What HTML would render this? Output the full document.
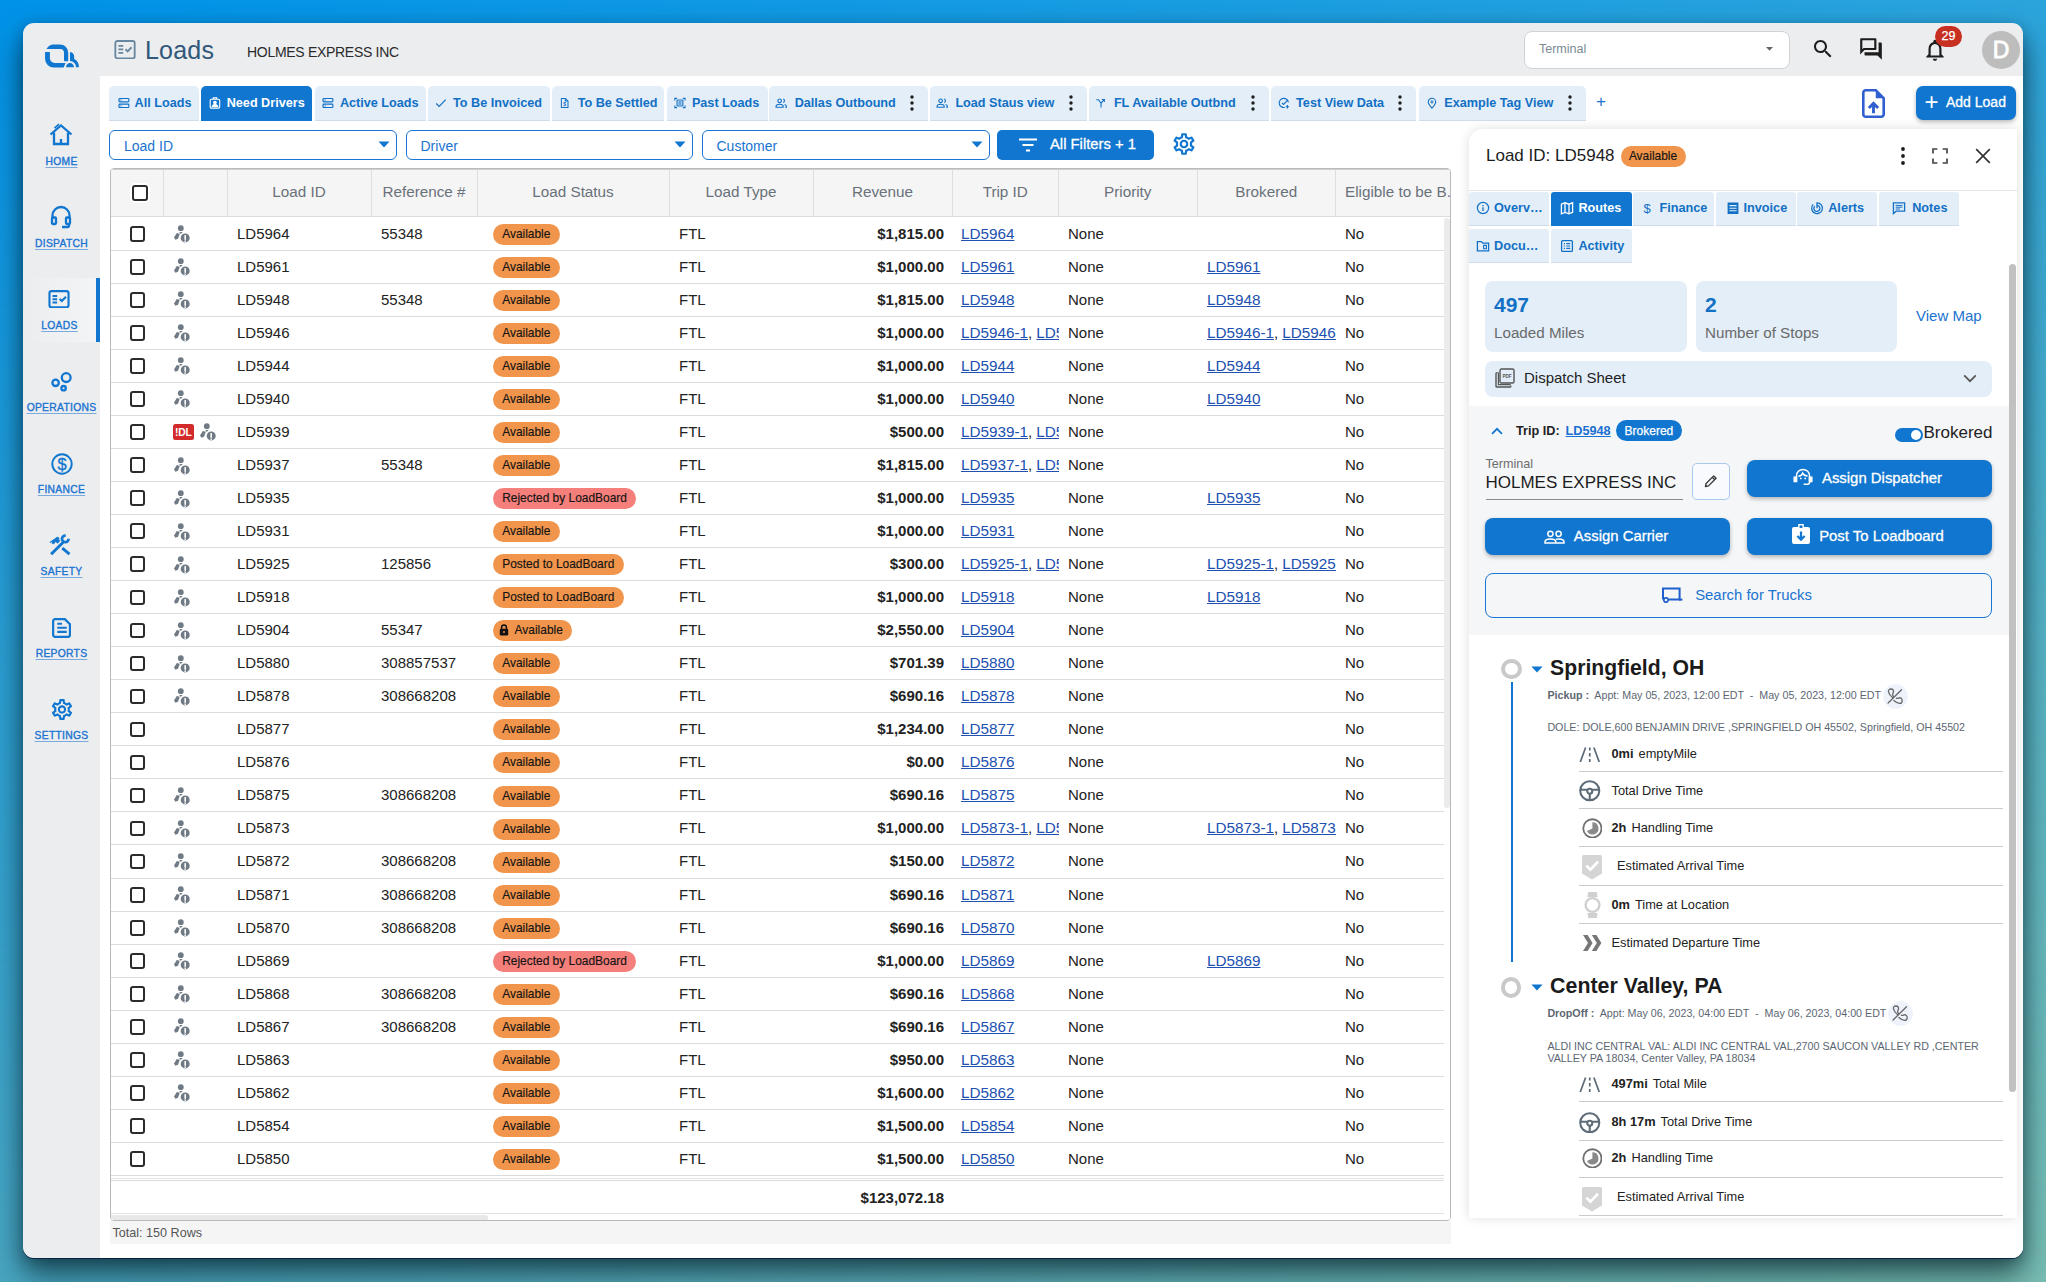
<!DOCTYPE html>
<html lang="en"><head><meta charset="utf-8"><title>Loads</title>
<style>
*{box-sizing:border-box;margin:0;padding:0}
html,body{width:2046px;height:1282px;overflow:hidden}
body{font-family:"Liberation Sans",Arial,sans-serif;color:#222;position:relative;background:linear-gradient(90deg,#0092e8 0%,#2ba4dc 100%)}
#bgb{position:absolute;left:0;top:0;width:2046px;height:1282px;background:linear-gradient(90deg,#48a6c2 0%,#78beb4 100%);-webkit-mask-image:linear-gradient(180deg,transparent 0%,rgba(0,0,0,.57) 50%,#000 100%);mask-image:linear-gradient(180deg,transparent 0%,rgba(0,0,0,.57) 50%,#000 100%)}
#win{position:absolute;left:23px;top:23px;width:2000px;height:1235px;border-radius:11px;background:#ecedef;overflow:hidden}
#sh{position:absolute;left:23px;top:23px;width:2000px;height:1235px;border-radius:11px;box-shadow:0 1px 0 rgba(5,30,60,.9),0 17px 30px rgba(0,25,30,.62),0 4px 14px rgba(0,30,50,.3)}
#pg{position:absolute;left:-23px;top:-23px;width:2046px;height:1282px}
.abs{position:absolute}
.abs>svg,.ico>svg{display:block}
a{color:#2050b0;text-decoration:underline}
.tr a{font-size:15.250px}
/* sidebar */
.nav{position:absolute;left:23px;width:77px;height:64px;text-align:center}
.nav.act{width:77px;background:linear-gradient(90deg,#ecedef,#f3f4f5);border-right:4px solid #1076cf}
.nav svg{position:absolute;left:50%;top:9px;transform:translateX(-50%)}
.nav span{position:absolute;left:0;right:0;font-size:10.3px;letter-spacing:.3px;color:#1a73d1;text-decoration:underline;text-decoration-color:rgba(26,115,209,.55);text-decoration-thickness:1px;text-underline-offset:2px;line-height:12px;-webkit-text-stroke:.35px #1a73d1}
/* header */
#title{position:absolute;left:145px;top:33.600px;font-size:25px;line-height:32px;color:#30587a;letter-spacing:.2px}
#comp{position:absolute;left:247px;top:43px;font-size:14px;line-height:18px;color:#2a2a2a;letter-spacing:-.3px}
#term{position:absolute;left:1524px;top:31px;width:266px;height:38px;border:1px solid #d0d3d6;border-radius:8px;background:#fff}
#term span{position:absolute;left:14px;top:9px;font-size:12.5px;color:#7b8a92;line-height:16px}
#main{position:absolute;left:100px;top:76px;width:1946px;height:1206px;background:#fff}
/* tabs */
.tab{position:absolute;top:86px;height:35px;background:#e3eef8;border-radius:5px 5px 0 0;border-bottom:1px solid #cfdceb;color:#1270c5;font-weight:700;font-size:12.650px;line-height:34px;white-space:nowrap;padding-left:25.400px}
.tab.on{background:#1076cf;color:#fff;border-bottom-color:#1076cf}
.tab .ti{display:block;position:absolute;top:10px;left:0;transform:scale(.85);transform-origin:0 50%}
.tab .kb{position:absolute;right:13px;top:8px}
/* filters */
.sel{position:absolute;top:130px;height:30px;border:1px solid #1a76d2;border-radius:6px;background:#fff;color:#1a73cf;font-size:14px;line-height:30px;padding-left:14px}
.sel svg{position:absolute;right:6px;top:10px}
#allf{position:absolute;left:997px;top:130px;width:157px;height:30px;border-radius:5px;background:#1076cf;color:#fff;font-size:14.800px;-webkit-text-stroke:.3px #fff;line-height:28.700px;padding-left:53px;white-space:nowrap}
#allf svg{position:absolute;left:21px;top:8px}
/* table */
#tbl{position:absolute;left:110px;top:168px;width:1341px;height:1053px;border:1px solid #b9b9b9;border-radius:4px;background:#fff;overflow:hidden}
#th{position:absolute;left:0;top:0;width:1400px;height:48px;background:#f5f5f5;border-bottom:1px solid #dcdcdc;border-top:1px solid #cfcfcf}
#th div{position:absolute;top:0;height:46px;border-right:1px solid #dedede;text-align:center;color:#69717a;font-size:15.250px;line-height:44px;white-space:nowrap;overflow:hidden}
.tr{position:relative;height:33.058px;border-bottom:1px solid #dcdcdc;width:1333px}
.c{position:absolute;top:0;height:32px;line-height:32.600px;font-size:15px;white-space:nowrap;overflow:hidden;color:#222}
.c0{left:0;width:53px}.c1{left:53px;width:63px}.c2{left:126px;width:135px}.c3{left:270px;width:97px}.c4{left:382px;width:180px}
.c5{left:568px;width:130px}.c6{left:703px;width:130px;text-align:right;font-weight:700}.c7{left:850px;width:98px}.c8{left:957px;width:130px}.c9{left:1096px;width:129px}.c10{left:1234px;width:100px}
.cb{position:absolute;left:18.500px;top:8.400px;width:15.600px;height:15.600px;border:2px solid #2b2b2b;border-radius:3px;background:#fff}
.pi{position:absolute;left:9.600px;top:7.600px}
.dl{position:absolute;left:8.900px;top:8px;width:21px;height:16px;background:#d32b2b;color:#fff;font-size:10.300px;font-weight:700;line-height:17.800px;text-align:center;border-radius:2.500px;letter-spacing:-.2px}
.dl + .pi{left:35.500px}
.bd{display:inline-block;height:21px;line-height:21px;border-radius:11px;background:#f0954b;color:#141414;font-size:11.950px;-webkit-text-stroke:.15px #141414;padding:0 9.200px;vertical-align:middle;position:relative;top:-.4px}
.bd.rj{background:#f57f7a}
.bd.lk{padding-left:5.800px;padding-right:9.500px}
#tot{position:absolute;left:0;top:1011px;width:1340px;height:34px;border-top:1px solid #dcdcdc;border-bottom:1px solid #e2e2e2}
#foot{position:absolute;left:110px;top:1221px;width:1341px;height:23px;background:#f5f5f5;font-size:12.600px;color:#555;line-height:24px;padding-left:2.500px}
/* panel */
#pan{position:absolute;left:1469px;top:129px;width:548px;height:1089px;background:#fff;border-radius:14px 0 0 0;box-shadow:0 0 12px rgba(0,0,0,.13);overflow:hidden}
#pin{position:absolute;left:-1469px;top:-129px;width:2046px;height:1282px}
.ptab{position:absolute;width:80.3px;height:34px;border-radius:3px 3px 0 0;background:#e3eef8;border-bottom:1px solid #cfdceb;color:#1270c5;font-weight:700;font-size:12.700px;line-height:33px;white-space:nowrap;padding-left:7px}
.ptab.on{background:#1076cf;color:#fff;border-bottom-color:#1076cf}
.ptab .ti{vertical-align:-3.200px;margin-right:4px}
.card{position:absolute;top:281px;height:71px;background:#e3eef8;border-radius:8px}
.card b{position:absolute;left:9px;top:11px;font-size:21px;line-height:26px;color:#1270c5}
.card span{position:absolute;left:9px;top:42px;font-size:15.200px;line-height:20px;color:#6a6a6a;white-space:nowrap}
.btn{position:absolute;height:37px;border-radius:8px;background:#1076cf;color:#fff;font-size:14.900px;-webkit-text-stroke:.3px #fff;line-height:36px;text-align:center;box-shadow:0 2px 4px rgba(0,0,0,.28);white-space:nowrap}
.btn svg{vertical-align:-3px;margin-right:9px}
.stopt{position:absolute;font-weight:700;font-size:21.350px;line-height:28px;color:#1b1b1b;margin-top:.7px;margin-left:.6px;white-space:nowrap}
.meta{position:absolute;font-size:10.700px;line-height:12.400px;color:#5c6672;white-space:nowrap}
.meta b{color:#5c6672}
.it{position:absolute;left:1611.5px;font-size:12.800px;line-height:16px;margin-top:.4px;color:#222;white-space:nowrap}
.it b{margin-right:5px}
.ln{position:absolute;left:1579px;width:424px;height:1px;background:#c6ccd0}
.ico{position:absolute}
.ring{position:absolute;width:20.600px;height:20.600px;border:4.500px solid #c9c9c9;border-radius:50%;background:#fff}
</style></head><body>
<div id="bgb"></div>
<div id="sh"></div>
<div id="win"><div id="pg">

<!-- SIDEBAR -->
<div class="abs" style="left:36px;top:36px"><svg width="60" height="40" viewBox="0 0 60 40" ><g fill="#1076cf"><path d="M10.4 12.900C12 10.400 14.500 8.400 17.200 8.400H24a8.200 8.200 0 0 1 8.200 8.200v7.800a.8 .8 0 0 1-.8 .8h-2.600a.8 .8 0 0 1-.8-.8v-7.600a3.800 3.800 0 0 0-3.800-3.800z"/><path d="M9.050 16.100h4.850v6.200a4.700 4.700 0 0 0 4.700 4.700h11l-2 4.500H17.800a8.750 8.750 0 0 1-8.750-8.750z"/><path d="M34 16.100c2.600 .4 4.200 2.200 4.200 4.600v2.400c3 1.400 4.800 4.400 4.800 8.100h-3c0-3.400-2.400-6-6-6.200z"/><path d="M30 31.200c.2-2.600 1.800-4.300 4-4.300s3.800 1.700 4 4.300z"/></g></svg></div>
<div class="nav" style="top:114px"><span style="top:42px">HOME</span><i></i></div>
<div class="nav" style="top:114px;left:22px"><svg width="24" height="23" viewBox="0 0 24 23" ><g fill="none" stroke="#1076cf" stroke-width="2.300"><path d="M1.5 11.5L12 2.5l10.5 9"/><path d="M5 9.5V21h14V9.5"/><path d="M12 21v-5"/><path d="M5.5 5.2L10 1.2" stroke-width="1.6"/></g></svg></div>
<div class="nav" style="top:196px"><span style="top:42px">DISPATCH</span></div>
<div class="nav" style="top:196px;left:22px"><svg width="22" height="24" viewBox="0 0 22 24" ><g fill="none" stroke="#1076cf" stroke-width="2.300"><path d="M2.5 14V10.5a8.5 8.5 0 0 1 17 0V14"/><rect x="2" y="12.5" width="4" height="6.5" rx="1"/><rect x="16" y="12.5" width="4" height="6.5" rx="1"/><path d="M19 19v1.5a1.5 1.5 0 0 1-1.5 1.5H12"/></g></svg></div>
<div class="nav act" style="top:278px"><span style="top:42px">LOADS</span></div>
<div class="nav" style="top:280.500px;width:73px;left:22px"><svg width="22" height="18.5" viewBox="0 0 23 20" ><g fill="none" stroke="#1076cf" stroke-width="2.300"><rect x="1.2" y="1.2" width="20.6" height="17.6" rx="2.2"/><path d="M4.5 6.5h5M4.5 10h5M4.5 13.5h5"/><path d="M12.2 9.6l2.4 2.4 4.4-4.6"/></g></svg></div>
<div class="nav" style="top:360px"><span style="top:42px">OPERATIONS</span></div>
<div class="nav" style="top:363px"><svg width="22" height="20" viewBox="0 0 22 20" ><g fill="none" stroke="#1076cf" stroke-width="2.300"><circle cx="15.2" cy="5.6" r="4.4"/><circle cx="4.6" cy="10.8" r="3.2"/><circle cx="12.6" cy="16.2" r="2.2"/></g></svg></div>
<div class="nav" style="top:442px"><span style="top:42px">FINANCE</span></div>
<div class="nav" style="top:443.500px"><svg width="22" height="22" viewBox="0 0 22 22" ><circle cx="11" cy="11" r="9.700" fill="none" stroke="#1076cf" stroke-width="1.900"/><text x="11" y="16.800" font-family="Liberation Sans, sans-serif" font-size="16.500" fill="#1076cf" stroke="#1076cf" stroke-width=".3" text-anchor="middle">$</text></svg></div>
<div class="nav" style="top:524px"><span style="top:42px">SAFETY</span></div>
<div class="nav" style="top:525px;left:21.500px"><svg width="23" height="22" viewBox="0 0 23 22" ><g fill="none" stroke="#1076cf"><path d="M2.600 20.200L15.200 7.800" stroke-width="2.900"/><path d="M13.800 14.200l7.200 6" stroke-width="2.900"/><path d="M20.100 4.800A3.300 3.300 0 1 1 17.200 1.600" stroke-width="2.700"/><path d="M1.400 8.400L8.600 3.200l2.200 .8-1 1.400 1.600 1.200-2.200 2.600-2-1.600-2.200 2.400-1.400-.8 .8-1.600z" fill="#1076cf" stroke-width=".8"/></g></svg></div>
<div class="nav" style="top:606px"><span style="top:42px">REPORTS</span></div>
<div class="nav" style="top:608.500px"><svg width="20" height="20" viewBox="0 0 21 21" ><g fill="none" stroke="#1076cf" stroke-width="2.300"><path d="M3.2 1.2h10.3l5.3 5.3v11.3a2 2 0 0 1-2 2H3.2a2 2 0 0 1-2-2V3.2a2 2 0 0 1 2-2z"/><path d="M5.5 6h5M5.5 10.3h10M5.5 14.6h10" stroke-width="2.2"/></g></svg></div>
<div class="nav" style="top:688px"><span style="top:42px">SETTINGS</span></div>
<div class="nav" style="top:688px"><svg width="25" height="25" viewBox="0 0 24 24" ><path fill="#1076cf" d="M19.43 12.98c.04-.32.07-.64.07-.98 0-.34-.03-.66-.07-.98l2.11-1.65c.19-.15.24-.42.12-.64l-2-3.46c-.09-.16-.26-.25-.44-.25-.06 0-.12.01-.17.03l-2.49 1c-.52-.4-1.08-.73-1.69-.98l-.38-2.65C14.46 2.18 14.25 2 14 2h-4c-.25 0-.46.18-.49.42l-.38 2.65c-.61.25-1.17.59-1.69.98l-2.49-1c-.06-.02-.12-.03-.18-.03-.17 0-.34.09-.43.25l-2 3.46c-.13.22-.07.49.12.64l2.11 1.65c-.04.32-.07.65-.07.98 0 .33.03.66.07.98l-2.11 1.65c-.19.15-.24.42-.12.64l2 3.46c.09.16.26.25.44.25.06 0 .12-.01.17-.03l2.49-1c.52.4 1.08.73 1.69.98l.38 2.65c.03.24.24.42.49.42h4c.25 0 .46-.18.49-.42l.38-2.65c.61-.25 1.17-.59 1.69-.98l2.49 1c.06.02.12.03.18.03.17 0 .34-.09.43-.25l2-3.46c.12-.22.07-.49-.12-.64l-2.11-1.65zm-1.98-1.71c.04.31.05.52.05.73 0 .21-.02.43-.05.73l-.14 1.13.89.7 1.08.84-.7 1.21-1.27-.51-1.04-.42-.9.68c-.43.32-.84.56-1.25.73l-1.06.43-.16 1.13-.2 1.35h-1.4l-.19-1.35-.16-1.13-1.06-.43c-.43-.18-.83-.41-1.23-.71l-.91-.7-1.06.43-1.27.51-.7-1.21 1.08-.84.89-.7-.14-1.13c-.03-.31-.05-.54-.05-.74s.02-.43.05-.73l.14-1.13-.89-.7-1.08-.84.7-1.21 1.27.51 1.04.42.9-.68c.43-.32.84-.56 1.25-.73l1.06-.43.16-1.13.2-1.35h1.39l.19 1.35.16 1.13 1.06.43c.43.18.83.41 1.23.71l.91.7 1.06-.43 1.27-.51.7 1.21-1.07.85-.89.7.14 1.13zM12 8c-2.21 0-4 1.79-4 4s1.79 4 4 4 4-1.79 4-4-1.79-4-4-4zm0 6c-1.1 0-2-.9-2-2s.9-2 2-2 2 .9 2 2-.9 2-2 2z"/></svg></div>

<!-- HEADER -->
<div class="abs" style="left:114.300px;top:39.800px"><svg width="22" height="19.5" viewBox="0 0 24 22" ><g fill="none" stroke="#6887a0" stroke-width="2.100"><rect x="1.100" y="1.100" width="21.800" height="19.600" rx="2.200"/><path d="M4.600 6.600h5.400M4.600 10.600h5.400M4.600 14.600h5.400"/><path d="M12.600 10.400l2.400 2.400 4.400-4.600"/></g></svg></div>
<div id="title">Loads</div>
<div id="comp">HOLMES EXPRESS INC</div>
<div id="term"><span>Terminal</span><div class="abs" style="right:16.500px;top:14.500px;line-height:0"><svg width="7" height="4" viewBox="0 0 7 4" ><path d="M0 0h7L3.500 3.700z" fill="#666"/></svg></div></div>
<div class="abs" style="left:1811px;top:37px"><svg width="24" height="24" viewBox="0 0 24 24" ><path fill="#1d1d1d" d="M15.5 14h-.79l-.28-.27C15.41 12.59 16 11.11 16 9.5 16 5.91 13.09 3 9.5 3S3 5.91 3 9.5 5.91 16 9.5 16c1.61 0 3.09-.59 4.23-1.57l.27.28v.79l5 4.99L20.49 19l-4.99-5zm-6 0C7.01 14 5 11.99 5 9.5S7.01 5 9.5 5 14 7.01 14 9.5 11.99 14 9.5 14z"/></svg></div>
<div class="abs" style="left:1858px;top:36px"><svg width="26" height="26" viewBox="0 0 24 24" ><path fill="#1d1d1d" d="M15 4v7H5.17L4 12.17V4h11m1-2H3c-.55 0-1 .45-1 1v14l4-4h10c.55 0 1-.45 1-1V3c0-.55-.45-1-1-1zm5 4h-2v9H6v2c0 .55.45 1 1 1h11l4 4V7c0-.55-.45-1-1-1z"/></svg></div>
<div class="abs" style="left:1922px;top:37px"><svg width="26" height="26" viewBox="0 0 24 24" ><path fill="#1d1d1d" d="M12 22c1.1 0 2-.9 2-2h-4c0 1.1.9 2 2 2zm6-6v-5c0-3.07-1.63-5.64-4.5-6.32V4c0-.83-.67-1.5-1.5-1.5s-1.5.67-1.5 1.5v.68C7.64 5.36 6 7.92 6 11v5l-2 2v1h16v-1l-2-2zm-2 1H8v-6c0-2.48 1.51-4.5 4-4.5s4 2.02 4 4.5v6z"/></svg></div>
<div class="abs" style="left:1935px;top:26px;width:27px;height:21px;border-radius:11px;background:#c72f20;-webkit-text-stroke:.25px #fff;color:#fff;font-size:12.5px;line-height:21px;text-align:center">29</div>
<div class="abs" style="left:1982px;top:31px;width:38px;height:38px;border-radius:50%;background:#bdbdbd;color:#fff;font-size:23px;line-height:38px;text-align:center;-webkit-text-stroke:.8px #fff">D</div>

<div id="main"></div>

<!-- TABS -->
<div class="tab" style="left:109.2px;width:90.0px"><span style="position:absolute;left:8.6px;top:0"><svg class="ti" width="14" height="14" viewBox="0 0 14 14"><g fill="none" stroke="currentColor" stroke-width="1.400"><rect x="1.200" y="1.700" width="11.600" height="4" rx="1"/><rect x="1.200" y="8.300" width="11.600" height="4" rx="1"/><path d="M3 3.700h1.200M3 10.300h1.200"/></g></svg></span>All Loads</div>
<div class="tab on" style="left:201.3px;width:111.2px"><span style="position:absolute;left:7.5px;top:0"><svg class="ti" width="14" height="14" viewBox="0 0 14 14"><g fill="none" stroke="currentColor" stroke-width="1.300"><rect x="1.400" y="2.600" width="11.200" height="10.400" rx="1.400"/><path d="M5 2.600V1h4v1.600"/><circle cx="7" cy="6.400" r="1.500" fill="currentColor"/><path d="M3.800 11c.4-1.600 1.600-2.200 3.200-2.200s2.800 .6 3.200 2.200z" fill="currentColor"/></g></svg></span>Need Drivers</div>
<div class="tab" style="left:314.5px;width:111.2px"><span style="position:absolute;left:7.2px;top:0"><svg class="ti" width="14" height="14" viewBox="0 0 14 14"><g fill="none" stroke="currentColor" stroke-width="1.400"><rect x="1.200" y="1.700" width="11.600" height="4" rx="1"/><rect x="1.200" y="8.300" width="11.600" height="4" rx="1"/><path d="M3 3.700h1.200M3 10.300h1.200"/></g></svg></span>Active Loads</div>
<div class="tab" style="left:427.7px;width:122.5px"><span style="position:absolute;left:7.6px;top:0"><svg class="ti" width="14" height="14" viewBox="0 0 14 14"><path d="M1.500 7.600l3.400 3.400L12.600 3" fill="none" stroke="currentColor" stroke-width="1.400"/></svg></span>To Be Invoiced</div>
<div class="tab" style="left:552.3px;width:112.2px"><span style="position:absolute;left:7.2px;top:0"><svg class="ti" width="13" height="14" viewBox="0 0 14 14"><g fill="none" stroke="currentColor" stroke-width="1.300"><path d="M3 1.200h5.200l3.200 3.200v8.400H3z"/><path d="M8 1.400v3.200h3.200"/></g><text x="7.200" y="11.200" font-size="6.500" font-weight="700" fill="currentColor" text-anchor="middle" font-family="Liberation Sans, sans-serif">$</text></svg></span>To Be Settled</div>
<div class="tab" style="left:666.5px;width:101.0px"><span style="position:absolute;left:7.2px;top:0"><svg class="ti" width="14" height="14" viewBox="0 0 14 14"><g fill="none" stroke="currentColor" stroke-width="1.300"><path d="M1 4V1.600h2.600M10.400 1.600H13V4M13 10v2.400h-2.600M3.600 12.400H1V10"/><rect x="3.600" y="3.400" width="6.800" height="7.200" rx=".6"/><path d="M5.200 5.600h3.600M5.200 7h3.600M5.200 8.400h3.600" stroke-width="1"/></g></svg></span>Past Loads</div>
<div class="tab" style="left:769.3px;width:158.9px"><span style="position:absolute;left:6.2px;top:0"><svg class="ti" width="15" height="14" viewBox="0 0 14.500 14"><g fill="none" stroke="currentColor" stroke-width="1.300"><circle cx="5.200" cy="4.400" r="2.100"/><path d="M1 12v-1c0-1.800 2.200-2.600 4.200-2.600s4.200 .8 4.200 2.600v1z"/><path d="M9.400 2.400a2.100 2.100 0 0 1 0 4M11 8.800c1.200 .4 2.200 1.100 2.200 2.200v1h-1.600"/></g></svg></span>Dallas Outbound<svg class="kb" width="6" height="18" viewBox="0 0 6 18"><circle cx="3" cy="3" r="1.700" fill="#1d1d1d"/><circle cx="3" cy="9" r="1.700" fill="#1d1d1d"/><circle cx="3" cy="15" r="1.700" fill="#1d1d1d"/></svg></div>
<div class="tab" style="left:930.0px;width:156.8px"><span style="position:absolute;left:6.0px;top:0"><svg class="ti" width="15" height="14" viewBox="0 0 14.500 14"><g fill="none" stroke="currentColor" stroke-width="1.300"><circle cx="5.200" cy="4.400" r="2.100"/><path d="M1 12v-1c0-1.800 2.200-2.600 4.200-2.600s4.200 .8 4.200 2.600v1z"/><path d="M9.400 2.400a2.100 2.100 0 0 1 0 4M11 8.800c1.200 .4 2.200 1.100 2.200 2.200v1h-1.600"/></g></svg></span>Load Staus view<svg class="kb" width="6" height="18" viewBox="0 0 6 18"><circle cx="3" cy="3" r="1.700" fill="#1d1d1d"/><circle cx="3" cy="9" r="1.700" fill="#1d1d1d"/><circle cx="3" cy="15" r="1.700" fill="#1d1d1d"/></svg></div>
<div class="tab" style="left:1088.5px;width:180.5px"><span style="position:absolute;left:6.8px;top:0"><svg class="ti" width="14" height="14" viewBox="0 0 14 14"><g fill="none" stroke="currentColor" stroke-width="1.300"><path d="M1.500 3.200h2.600l3 4v5"/><path d="M7.100 7.200l3.400-4M8 2.800h3v3"/></g></svg></span>FL Available Outbnd<svg class="kb" width="6" height="18" viewBox="0 0 6 18"><circle cx="3" cy="3" r="1.700" fill="#1d1d1d"/><circle cx="3" cy="9" r="1.700" fill="#1d1d1d"/><circle cx="3" cy="15" r="1.700" fill="#1d1d1d"/></svg></div>
<div class="tab" style="left:1270.7px;width:145.3px"><span style="position:absolute;left:7.5px;top:0"><svg class="ti" width="14" height="14" viewBox="0 0 14 14"><g fill="none" stroke="currentColor" stroke-width="1.300"><path d="M12.200 6.200A5.400 5.400 0 1 0 8 12.200"/><path d="M4.600 6.800l1.900 1.900 5.200-5.400"/><path d="M11 9.400v4M9 11.400h4"/></g></svg></span>Test View Data<svg class="kb" width="6" height="18" viewBox="0 0 6 18"><circle cx="3" cy="3" r="1.700" fill="#1d1d1d"/><circle cx="3" cy="9" r="1.700" fill="#1d1d1d"/><circle cx="3" cy="15" r="1.700" fill="#1d1d1d"/></svg></div>
<div class="tab" style="left:1418.9px;width:167.1px"><span style="position:absolute;left:7.4px;top:0"><svg class="ti" width="14" height="14" viewBox="0 0 14 14"><g fill="none" stroke="currentColor" stroke-width="1.300"><path d="M7 13c-2.600-2.800-4.400-4.800-4.400-7.200a4.400 4.400 0 0 1 8.800 0C11.400 8.200 9.600 10.200 7 13z"/><path d="M7 3.800v4M5 5.800h4" stroke-width="1.100"/></g></svg></span>Example Tag View<svg class="kb" width="6" height="18" viewBox="0 0 6 18"><circle cx="3" cy="3" r="1.700" fill="#1d1d1d"/><circle cx="3" cy="9" r="1.700" fill="#1d1d1d"/><circle cx="3" cy="15" r="1.700" fill="#1d1d1d"/></svg></div>
<div class="abs" style="left:1594px;top:92px;color:#1a73cf;font-size:17px;line-height:20px;width:14px;text-align:center">+</div>
<div class="abs" style="left:1862.300px;top:88.800px"><svg width="23" height="29" viewBox="0 0 23 29" ><path d="M3.800 1.300h10l7.900 7.900v16a2.500 2.500 0 0 1-2.500 2.500H3.800A2.500 2.500 0 0 1 1.300 25.200V3.800A2.500 2.500 0 0 1 3.800 1.300z" fill="#fff" stroke="#2f5fd0" stroke-width="2.600"/><path d="M13.800 1.300l7.900 7.900h-7.900z" fill="#2f5fd0"/><path d="M11.500 24.200v-8.400M6.900 19l4.600-4.600 4.600 4.600" fill="none" stroke="#2f5fd0" stroke-width="2.900"/></svg></div>
<div class="btn" style="left:1916px;top:86px;width:100px;height:34px;line-height:33px;font-size:14px;border-radius:7px;text-align:left"><span style="position:absolute;left:8.500px;top:-1.500px;font-size:24px;font-weight:400;-webkit-text-stroke:0">+</span><span style="position:absolute;left:30px;top:0">Add Load</span></div>

<!-- FILTERS -->
<div class="sel" style="left:109px;width:288px">Load ID<svg width="12" height="7" viewBox="0 0 12 7" ><path d="M0.5 0.5h11L6 6.5z" fill="#1076cf"/></svg></div>
<div class="sel" style="left:405.500px;width:287.500px">Driver<svg width="12" height="7" viewBox="0 0 12 7" ><path d="M0.5 0.5h11L6 6.5z" fill="#1076cf"/></svg></div>
<div class="sel" style="left:701.500px;width:288px">Customer<svg width="12" height="7" viewBox="0 0 12 7" ><path d="M0.5 0.5h11L6 6.5z" fill="#1076cf"/></svg></div>
<div id="allf"><svg width="20" height="14" viewBox="0 0 20 14" ><path d="M1 1.500h18M4.500 7h11M8 12.500h4" stroke="#fff" stroke-width="2" fill="none"/></svg>All Filters + 1</div>
<div class="abs" style="left:1171px;top:131px"><svg width="26" height="26" viewBox="0 0 24 24" ><path fill="#1076cf" d="M19.43 12.98c.04-.32.07-.64.07-.98 0-.34-.03-.66-.07-.98l2.11-1.65c.19-.15.24-.42.12-.64l-2-3.46c-.09-.16-.26-.25-.44-.25-.06 0-.12.01-.17.03l-2.49 1c-.52-.4-1.08-.73-1.69-.98l-.38-2.65C14.46 2.18 14.25 2 14 2h-4c-.25 0-.46.18-.49.42l-.38 2.65c-.61.25-1.17.59-1.69.98l-2.49-1c-.06-.02-.12-.03-.18-.03-.17 0-.34.09-.43.25l-2 3.46c-.13.22-.07.49.12.64l2.11 1.65c-.04.32-.07.65-.07.98 0 .33.03.66.07.98l-2.11 1.65c-.19.15-.24.42-.12.64l2 3.46c.09.16.26.25.44.25.06 0 .12-.01.17-.03l2.49-1c.52.4 1.08.73 1.69.98l.38 2.65c.03.24.24.42.49.42h4c.25 0 .46-.18.49-.42l.38-2.65c.61-.25 1.17-.59 1.69-.98l2.49 1c.06.02.12.03.18.03.17 0 .34-.09.43-.25l2-3.46c.12-.22.07-.49-.12-.64l-2.11-1.65zm-1.98-1.71c.04.31.05.52.05.73 0 .21-.02.43-.05.73l-.14 1.13.89.7 1.08.84-.7 1.21-1.27-.51-1.04-.42-.9.68c-.43.32-.84.56-1.25.73l-1.06.43-.16 1.13-.2 1.35h-1.4l-.19-1.35-.16-1.13-1.06-.43c-.43-.18-.83-.41-1.23-.71l-.91-.7-1.06.43-1.27.51-.7-1.21 1.08-.84.89-.7-.14-1.13c-.03-.31-.05-.54-.05-.74s.02-.43.05-.73l.14-1.13-.89-.7-1.08-.84.7-1.21 1.27.51 1.04.42.9-.68c.43-.32.84-.56 1.25-.73l1.06-.43.16-1.13.2-1.35h1.39l.19 1.35.16 1.13 1.06.43c.43.18.83.41 1.23.71l.91.7 1.06-.43 1.27-.51.7 1.21-1.07.85-.89.7.14 1.13zM12 8c-2.21 0-4 1.79-4 4s1.79 4 4 4 4-1.79 4-4-1.79-4-4-4zm0 6c-1.1 0-2-.9-2-2s.9-2 2-2 2 .9 2 2-.9 2-2 2z"/></svg></div>

<!-- TABLE -->
<div id="tbl">
 <div id="th">
  <div style="left:0;width:53px"><span class="cb" style="left:21px;top:15.400px;width:16px;height:16px;box-shadow:0 0 0 2px #fff"></span></div>
  <div style="left:53px;width:63.500px"></div>
  <div style="left:116.500px;width:144px">Load ID</div>
  <div style="left:260.500px;width:106px">Reference #</div>
  <div style="left:366.500px;width:192px">Load Status</div>
  <div style="left:558.500px;width:144px">Load Type</div>
  <div style="left:702.500px;width:139px">Revenue</div>
  <div style="left:841.500px;width:106.500px">Trip ID</div>
  <div style="left:948px;width:138.500px">Priority</div>
  <div style="left:1086.500px;width:138.500px">Brokered</div>
  <div style="left:1225px;width:140px;text-align:left;padding-left:9px;border-right:0">Eligible to be B..</div>
 </div>
 <div style="position:absolute;left:0;top:48.600px;width:1333px">
<div class="tr"><div class="c c0"><span class="cb"></span></div><div class="c c1"><svg class="pi" width="16" height="18" viewBox="0 0 16 18"><g fill="#6f7a85"><circle cx="6.800" cy="3.200" r="2.900"/><path d="M5.200 7.100h3.500L6.700 8.900z"/><path d="M2.800 8.100l3 .6-1.800 5.100-2.600 .9L0 12.600z"/><circle cx="11.200" cy="12.900" r="4.500"/></g><rect x="10.400" y="10.100" width="1.600" height="4.700" fill="#fff"/><rect x="10.400" y="15.500" width="1.600" height="1.400" fill="#fff"/></svg></div><div class="c c2">LD5964</div><div class="c c3">55348</div><div class="c c4"><span class="bd">Available</span></div><div class="c c5">FTL</div><div class="c c6">$1,815.00</div><div class="c c7"><a>LD5964</a></div><div class="c c8">None</div><div class="c c9"></div><div class="c c10">No</div></div>
<div class="tr"><div class="c c0"><span class="cb"></span></div><div class="c c1"><svg class="pi" width="16" height="18" viewBox="0 0 16 18"><g fill="#6f7a85"><circle cx="6.800" cy="3.200" r="2.900"/><path d="M5.200 7.100h3.500L6.700 8.900z"/><path d="M2.800 8.100l3 .6-1.800 5.100-2.600 .9L0 12.600z"/><circle cx="11.200" cy="12.900" r="4.500"/></g><rect x="10.400" y="10.100" width="1.600" height="4.700" fill="#fff"/><rect x="10.400" y="15.500" width="1.600" height="1.400" fill="#fff"/></svg></div><div class="c c2">LD5961</div><div class="c c3"></div><div class="c c4"><span class="bd">Available</span></div><div class="c c5">FTL</div><div class="c c6">$1,000.00</div><div class="c c7"><a>LD5961</a></div><div class="c c8">None</div><div class="c c9"><a>LD5961</a></div><div class="c c10">No</div></div>
<div class="tr"><div class="c c0"><span class="cb"></span></div><div class="c c1"><svg class="pi" width="16" height="18" viewBox="0 0 16 18"><g fill="#6f7a85"><circle cx="6.800" cy="3.200" r="2.900"/><path d="M5.200 7.100h3.500L6.700 8.900z"/><path d="M2.800 8.100l3 .6-1.800 5.100-2.600 .9L0 12.600z"/><circle cx="11.200" cy="12.900" r="4.500"/></g><rect x="10.400" y="10.100" width="1.600" height="4.700" fill="#fff"/><rect x="10.400" y="15.500" width="1.600" height="1.400" fill="#fff"/></svg></div><div class="c c2">LD5948</div><div class="c c3">55348</div><div class="c c4"><span class="bd">Available</span></div><div class="c c5">FTL</div><div class="c c6">$1,815.00</div><div class="c c7"><a>LD5948</a></div><div class="c c8">None</div><div class="c c9"><a>LD5948</a></div><div class="c c10">No</div></div>
<div class="tr"><div class="c c0"><span class="cb"></span></div><div class="c c1"><svg class="pi" width="16" height="18" viewBox="0 0 16 18"><g fill="#6f7a85"><circle cx="6.800" cy="3.200" r="2.900"/><path d="M5.200 7.100h3.500L6.700 8.900z"/><path d="M2.800 8.100l3 .6-1.800 5.100-2.600 .9L0 12.600z"/><circle cx="11.200" cy="12.900" r="4.500"/></g><rect x="10.400" y="10.100" width="1.600" height="4.700" fill="#fff"/><rect x="10.400" y="15.500" width="1.600" height="1.400" fill="#fff"/></svg></div><div class="c c2">LD5946</div><div class="c c3"></div><div class="c c4"><span class="bd">Available</span></div><div class="c c5">FTL</div><div class="c c6">$1,000.00</div><div class="c c7"><a>LD5946-1</a>, <a>LD5946-2</a></div><div class="c c8">None</div><div class="c c9"><a>LD5946-1</a>, <a>LD5946-2</a></div><div class="c c10">No</div></div>
<div class="tr"><div class="c c0"><span class="cb"></span></div><div class="c c1"><svg class="pi" width="16" height="18" viewBox="0 0 16 18"><g fill="#6f7a85"><circle cx="6.800" cy="3.200" r="2.900"/><path d="M5.200 7.100h3.500L6.700 8.900z"/><path d="M2.800 8.100l3 .6-1.800 5.100-2.600 .9L0 12.600z"/><circle cx="11.200" cy="12.900" r="4.500"/></g><rect x="10.400" y="10.100" width="1.600" height="4.700" fill="#fff"/><rect x="10.400" y="15.500" width="1.600" height="1.400" fill="#fff"/></svg></div><div class="c c2">LD5944</div><div class="c c3"></div><div class="c c4"><span class="bd">Available</span></div><div class="c c5">FTL</div><div class="c c6">$1,000.00</div><div class="c c7"><a>LD5944</a></div><div class="c c8">None</div><div class="c c9"><a>LD5944</a></div><div class="c c10">No</div></div>
<div class="tr"><div class="c c0"><span class="cb"></span></div><div class="c c1"><svg class="pi" width="16" height="18" viewBox="0 0 16 18"><g fill="#6f7a85"><circle cx="6.800" cy="3.200" r="2.900"/><path d="M5.200 7.100h3.500L6.700 8.900z"/><path d="M2.800 8.100l3 .6-1.800 5.100-2.600 .9L0 12.600z"/><circle cx="11.200" cy="12.900" r="4.500"/></g><rect x="10.400" y="10.100" width="1.600" height="4.700" fill="#fff"/><rect x="10.400" y="15.500" width="1.600" height="1.400" fill="#fff"/></svg></div><div class="c c2">LD5940</div><div class="c c3"></div><div class="c c4"><span class="bd">Available</span></div><div class="c c5">FTL</div><div class="c c6">$1,000.00</div><div class="c c7"><a>LD5940</a></div><div class="c c8">None</div><div class="c c9"><a>LD5940</a></div><div class="c c10">No</div></div>
<div class="tr"><div class="c c0"><span class="cb"></span></div><div class="c c1"><span class="dl">!DL</span><svg class="pi" width="16" height="18" viewBox="0 0 16 18"><g fill="#6f7a85"><circle cx="6.800" cy="3.200" r="2.900"/><path d="M5.200 7.100h3.500L6.700 8.900z"/><path d="M2.800 8.100l3 .6-1.800 5.100-2.600 .9L0 12.600z"/><circle cx="11.200" cy="12.900" r="4.500"/></g><rect x="10.400" y="10.100" width="1.600" height="4.700" fill="#fff"/><rect x="10.400" y="15.500" width="1.600" height="1.400" fill="#fff"/></svg></div><div class="c c2">LD5939</div><div class="c c3"></div><div class="c c4"><span class="bd">Available</span></div><div class="c c5">FTL</div><div class="c c6">$500.00</div><div class="c c7"><a>LD5939-1</a>, <a>LD5939-2</a></div><div class="c c8">None</div><div class="c c9"></div><div class="c c10">No</div></div>
<div class="tr"><div class="c c0"><span class="cb"></span></div><div class="c c1"><svg class="pi" width="16" height="18" viewBox="0 0 16 18"><g fill="#6f7a85"><circle cx="6.800" cy="3.200" r="2.900"/><path d="M5.200 7.100h3.500L6.700 8.900z"/><path d="M2.800 8.100l3 .6-1.800 5.100-2.600 .9L0 12.600z"/><circle cx="11.200" cy="12.900" r="4.500"/></g><rect x="10.400" y="10.100" width="1.600" height="4.700" fill="#fff"/><rect x="10.400" y="15.500" width="1.600" height="1.400" fill="#fff"/></svg></div><div class="c c2">LD5937</div><div class="c c3">55348</div><div class="c c4"><span class="bd">Available</span></div><div class="c c5">FTL</div><div class="c c6">$1,815.00</div><div class="c c7"><a>LD5937-1</a>, <a>LD5937-2</a></div><div class="c c8">None</div><div class="c c9"></div><div class="c c10">No</div></div>
<div class="tr"><div class="c c0"><span class="cb"></span></div><div class="c c1"><svg class="pi" width="16" height="18" viewBox="0 0 16 18"><g fill="#6f7a85"><circle cx="6.800" cy="3.200" r="2.900"/><path d="M5.200 7.100h3.500L6.700 8.900z"/><path d="M2.800 8.100l3 .6-1.800 5.100-2.600 .9L0 12.600z"/><circle cx="11.200" cy="12.900" r="4.500"/></g><rect x="10.400" y="10.100" width="1.600" height="4.700" fill="#fff"/><rect x="10.400" y="15.500" width="1.600" height="1.400" fill="#fff"/></svg></div><div class="c c2">LD5935</div><div class="c c3"></div><div class="c c4"><span class="bd rj">Rejected by LoadBoard</span></div><div class="c c5">FTL</div><div class="c c6">$1,000.00</div><div class="c c7"><a>LD5935</a></div><div class="c c8">None</div><div class="c c9"><a>LD5935</a></div><div class="c c10">No</div></div>
<div class="tr"><div class="c c0"><span class="cb"></span></div><div class="c c1"><svg class="pi" width="16" height="18" viewBox="0 0 16 18"><g fill="#6f7a85"><circle cx="6.800" cy="3.200" r="2.900"/><path d="M5.200 7.100h3.500L6.700 8.900z"/><path d="M2.800 8.100l3 .6-1.800 5.100-2.600 .9L0 12.600z"/><circle cx="11.200" cy="12.900" r="4.500"/></g><rect x="10.400" y="10.100" width="1.600" height="4.700" fill="#fff"/><rect x="10.400" y="15.500" width="1.600" height="1.400" fill="#fff"/></svg></div><div class="c c2">LD5931</div><div class="c c3"></div><div class="c c4"><span class="bd">Available</span></div><div class="c c5">FTL</div><div class="c c6">$1,000.00</div><div class="c c7"><a>LD5931</a></div><div class="c c8">None</div><div class="c c9"></div><div class="c c10">No</div></div>
<div class="tr"><div class="c c0"><span class="cb"></span></div><div class="c c1"><svg class="pi" width="16" height="18" viewBox="0 0 16 18"><g fill="#6f7a85"><circle cx="6.800" cy="3.200" r="2.900"/><path d="M5.200 7.100h3.500L6.700 8.900z"/><path d="M2.800 8.100l3 .6-1.800 5.100-2.600 .9L0 12.600z"/><circle cx="11.200" cy="12.900" r="4.500"/></g><rect x="10.400" y="10.100" width="1.600" height="4.700" fill="#fff"/><rect x="10.400" y="15.500" width="1.600" height="1.400" fill="#fff"/></svg></div><div class="c c2">LD5925</div><div class="c c3">125856</div><div class="c c4"><span class="bd">Posted to LoadBoard</span></div><div class="c c5">FTL</div><div class="c c6">$300.00</div><div class="c c7"><a>LD5925-1</a>, <a>LD5925-2</a></div><div class="c c8">None</div><div class="c c9"><a>LD5925-1</a>, <a>LD5925-2</a></div><div class="c c10">No</div></div>
<div class="tr"><div class="c c0"><span class="cb"></span></div><div class="c c1"><svg class="pi" width="16" height="18" viewBox="0 0 16 18"><g fill="#6f7a85"><circle cx="6.800" cy="3.200" r="2.900"/><path d="M5.200 7.100h3.500L6.700 8.900z"/><path d="M2.800 8.100l3 .6-1.800 5.100-2.600 .9L0 12.600z"/><circle cx="11.200" cy="12.900" r="4.500"/></g><rect x="10.400" y="10.100" width="1.600" height="4.700" fill="#fff"/><rect x="10.400" y="15.500" width="1.600" height="1.400" fill="#fff"/></svg></div><div class="c c2">LD5918</div><div class="c c3"></div><div class="c c4"><span class="bd">Posted to LoadBoard</span></div><div class="c c5">FTL</div><div class="c c6">$1,000.00</div><div class="c c7"><a>LD5918</a></div><div class="c c8">None</div><div class="c c9"><a>LD5918</a></div><div class="c c10">No</div></div>
<div class="tr"><div class="c c0"><span class="cb"></span></div><div class="c c1"><svg class="pi" width="16" height="18" viewBox="0 0 16 18"><g fill="#6f7a85"><circle cx="6.800" cy="3.200" r="2.900"/><path d="M5.200 7.100h3.500L6.700 8.900z"/><path d="M2.800 8.100l3 .6-1.800 5.100-2.600 .9L0 12.600z"/><circle cx="11.200" cy="12.900" r="4.500"/></g><rect x="10.400" y="10.100" width="1.600" height="4.700" fill="#fff"/><rect x="10.400" y="15.500" width="1.600" height="1.400" fill="#fff"/></svg></div><div class="c c2">LD5904</div><div class="c c3">55347</div><div class="c c4"><span class="bd lk"><svg width="10" height="12" viewBox="0 0 10 12" style="margin-right:5.800px;vertical-align:-1.800px"><path d="M2.6 5V3.4a2.4 2.4 0 0 1 4.8 0V5" fill="none" stroke="#111" stroke-width="1.5"/><rect x="0.8" y="4.8" width="8.4" height="6.6" rx="1.2" fill="#111"/><circle cx="5" cy="8.1" r="1" fill="#f0954b"/></svg>Available</span></div><div class="c c5">FTL</div><div class="c c6">$2,550.00</div><div class="c c7"><a>LD5904</a></div><div class="c c8">None</div><div class="c c9"></div><div class="c c10">No</div></div>
<div class="tr"><div class="c c0"><span class="cb"></span></div><div class="c c1"><svg class="pi" width="16" height="18" viewBox="0 0 16 18"><g fill="#6f7a85"><circle cx="6.800" cy="3.200" r="2.900"/><path d="M5.200 7.100h3.500L6.700 8.900z"/><path d="M2.800 8.100l3 .6-1.800 5.100-2.600 .9L0 12.600z"/><circle cx="11.200" cy="12.900" r="4.500"/></g><rect x="10.400" y="10.100" width="1.600" height="4.700" fill="#fff"/><rect x="10.400" y="15.500" width="1.600" height="1.400" fill="#fff"/></svg></div><div class="c c2">LD5880</div><div class="c c3">308857537</div><div class="c c4"><span class="bd">Available</span></div><div class="c c5">FTL</div><div class="c c6">$701.39</div><div class="c c7"><a>LD5880</a></div><div class="c c8">None</div><div class="c c9"></div><div class="c c10">No</div></div>
<div class="tr"><div class="c c0"><span class="cb"></span></div><div class="c c1"><svg class="pi" width="16" height="18" viewBox="0 0 16 18"><g fill="#6f7a85"><circle cx="6.800" cy="3.200" r="2.900"/><path d="M5.200 7.100h3.500L6.700 8.900z"/><path d="M2.800 8.100l3 .6-1.800 5.100-2.600 .9L0 12.600z"/><circle cx="11.200" cy="12.900" r="4.500"/></g><rect x="10.400" y="10.100" width="1.600" height="4.700" fill="#fff"/><rect x="10.400" y="15.500" width="1.600" height="1.400" fill="#fff"/></svg></div><div class="c c2">LD5878</div><div class="c c3">308668208</div><div class="c c4"><span class="bd">Available</span></div><div class="c c5">FTL</div><div class="c c6">$690.16</div><div class="c c7"><a>LD5878</a></div><div class="c c8">None</div><div class="c c9"></div><div class="c c10">No</div></div>
<div class="tr"><div class="c c0"><span class="cb"></span></div><div class="c c1"></div><div class="c c2">LD5877</div><div class="c c3"></div><div class="c c4"><span class="bd">Available</span></div><div class="c c5">FTL</div><div class="c c6">$1,234.00</div><div class="c c7"><a>LD5877</a></div><div class="c c8">None</div><div class="c c9"></div><div class="c c10">No</div></div>
<div class="tr"><div class="c c0"><span class="cb"></span></div><div class="c c1"></div><div class="c c2">LD5876</div><div class="c c3"></div><div class="c c4"><span class="bd">Available</span></div><div class="c c5">FTL</div><div class="c c6">$0.00</div><div class="c c7"><a>LD5876</a></div><div class="c c8">None</div><div class="c c9"></div><div class="c c10">No</div></div>
<div class="tr"><div class="c c0"><span class="cb"></span></div><div class="c c1"><svg class="pi" width="16" height="18" viewBox="0 0 16 18"><g fill="#6f7a85"><circle cx="6.800" cy="3.200" r="2.900"/><path d="M5.200 7.100h3.500L6.700 8.900z"/><path d="M2.800 8.100l3 .6-1.800 5.100-2.600 .9L0 12.600z"/><circle cx="11.200" cy="12.900" r="4.500"/></g><rect x="10.400" y="10.100" width="1.600" height="4.700" fill="#fff"/><rect x="10.400" y="15.500" width="1.600" height="1.400" fill="#fff"/></svg></div><div class="c c2">LD5875</div><div class="c c3">308668208</div><div class="c c4"><span class="bd">Available</span></div><div class="c c5">FTL</div><div class="c c6">$690.16</div><div class="c c7"><a>LD5875</a></div><div class="c c8">None</div><div class="c c9"></div><div class="c c10">No</div></div>
<div class="tr"><div class="c c0"><span class="cb"></span></div><div class="c c1"><svg class="pi" width="16" height="18" viewBox="0 0 16 18"><g fill="#6f7a85"><circle cx="6.800" cy="3.200" r="2.900"/><path d="M5.200 7.100h3.500L6.700 8.900z"/><path d="M2.800 8.100l3 .6-1.800 5.100-2.600 .9L0 12.600z"/><circle cx="11.200" cy="12.900" r="4.500"/></g><rect x="10.400" y="10.100" width="1.600" height="4.700" fill="#fff"/><rect x="10.400" y="15.500" width="1.600" height="1.400" fill="#fff"/></svg></div><div class="c c2">LD5873</div><div class="c c3"></div><div class="c c4"><span class="bd">Available</span></div><div class="c c5">FTL</div><div class="c c6">$1,000.00</div><div class="c c7"><a>LD5873-1</a>, <a>LD5873-2</a></div><div class="c c8">None</div><div class="c c9"><a>LD5873-1</a>, <a>LD5873-2</a></div><div class="c c10">No</div></div>
<div class="tr"><div class="c c0"><span class="cb"></span></div><div class="c c1"><svg class="pi" width="16" height="18" viewBox="0 0 16 18"><g fill="#6f7a85"><circle cx="6.800" cy="3.200" r="2.900"/><path d="M5.200 7.100h3.500L6.700 8.900z"/><path d="M2.800 8.100l3 .6-1.800 5.100-2.600 .9L0 12.600z"/><circle cx="11.200" cy="12.900" r="4.500"/></g><rect x="10.400" y="10.100" width="1.600" height="4.700" fill="#fff"/><rect x="10.400" y="15.500" width="1.600" height="1.400" fill="#fff"/></svg></div><div class="c c2">LD5872</div><div class="c c3">308668208</div><div class="c c4"><span class="bd">Available</span></div><div class="c c5">FTL</div><div class="c c6">$150.00</div><div class="c c7"><a>LD5872</a></div><div class="c c8">None</div><div class="c c9"></div><div class="c c10">No</div></div>
<div class="tr"><div class="c c0"><span class="cb"></span></div><div class="c c1"><svg class="pi" width="16" height="18" viewBox="0 0 16 18"><g fill="#6f7a85"><circle cx="6.800" cy="3.200" r="2.900"/><path d="M5.200 7.100h3.500L6.700 8.900z"/><path d="M2.800 8.100l3 .6-1.800 5.100-2.600 .9L0 12.600z"/><circle cx="11.200" cy="12.900" r="4.500"/></g><rect x="10.400" y="10.100" width="1.600" height="4.700" fill="#fff"/><rect x="10.400" y="15.500" width="1.600" height="1.400" fill="#fff"/></svg></div><div class="c c2">LD5871</div><div class="c c3">308668208</div><div class="c c4"><span class="bd">Available</span></div><div class="c c5">FTL</div><div class="c c6">$690.16</div><div class="c c7"><a>LD5871</a></div><div class="c c8">None</div><div class="c c9"></div><div class="c c10">No</div></div>
<div class="tr"><div class="c c0"><span class="cb"></span></div><div class="c c1"><svg class="pi" width="16" height="18" viewBox="0 0 16 18"><g fill="#6f7a85"><circle cx="6.800" cy="3.200" r="2.900"/><path d="M5.200 7.100h3.500L6.700 8.900z"/><path d="M2.800 8.100l3 .6-1.800 5.100-2.600 .9L0 12.600z"/><circle cx="11.200" cy="12.900" r="4.500"/></g><rect x="10.400" y="10.100" width="1.600" height="4.700" fill="#fff"/><rect x="10.400" y="15.500" width="1.600" height="1.400" fill="#fff"/></svg></div><div class="c c2">LD5870</div><div class="c c3">308668208</div><div class="c c4"><span class="bd">Available</span></div><div class="c c5">FTL</div><div class="c c6">$690.16</div><div class="c c7"><a>LD5870</a></div><div class="c c8">None</div><div class="c c9"></div><div class="c c10">No</div></div>
<div class="tr"><div class="c c0"><span class="cb"></span></div><div class="c c1"><svg class="pi" width="16" height="18" viewBox="0 0 16 18"><g fill="#6f7a85"><circle cx="6.800" cy="3.200" r="2.900"/><path d="M5.200 7.100h3.500L6.700 8.900z"/><path d="M2.800 8.100l3 .6-1.800 5.100-2.600 .9L0 12.600z"/><circle cx="11.200" cy="12.900" r="4.500"/></g><rect x="10.400" y="10.100" width="1.600" height="4.700" fill="#fff"/><rect x="10.400" y="15.500" width="1.600" height="1.400" fill="#fff"/></svg></div><div class="c c2">LD5869</div><div class="c c3"></div><div class="c c4"><span class="bd rj">Rejected by LoadBoard</span></div><div class="c c5">FTL</div><div class="c c6">$1,000.00</div><div class="c c7"><a>LD5869</a></div><div class="c c8">None</div><div class="c c9"><a>LD5869</a></div><div class="c c10">No</div></div>
<div class="tr"><div class="c c0"><span class="cb"></span></div><div class="c c1"><svg class="pi" width="16" height="18" viewBox="0 0 16 18"><g fill="#6f7a85"><circle cx="6.800" cy="3.200" r="2.900"/><path d="M5.200 7.100h3.500L6.700 8.900z"/><path d="M2.800 8.100l3 .6-1.800 5.100-2.600 .9L0 12.600z"/><circle cx="11.200" cy="12.900" r="4.500"/></g><rect x="10.400" y="10.100" width="1.600" height="4.700" fill="#fff"/><rect x="10.400" y="15.500" width="1.600" height="1.400" fill="#fff"/></svg></div><div class="c c2">LD5868</div><div class="c c3">308668208</div><div class="c c4"><span class="bd">Available</span></div><div class="c c5">FTL</div><div class="c c6">$690.16</div><div class="c c7"><a>LD5868</a></div><div class="c c8">None</div><div class="c c9"></div><div class="c c10">No</div></div>
<div class="tr"><div class="c c0"><span class="cb"></span></div><div class="c c1"><svg class="pi" width="16" height="18" viewBox="0 0 16 18"><g fill="#6f7a85"><circle cx="6.800" cy="3.200" r="2.900"/><path d="M5.200 7.100h3.500L6.700 8.900z"/><path d="M2.800 8.100l3 .6-1.800 5.100-2.600 .9L0 12.600z"/><circle cx="11.200" cy="12.900" r="4.500"/></g><rect x="10.400" y="10.100" width="1.600" height="4.700" fill="#fff"/><rect x="10.400" y="15.500" width="1.600" height="1.400" fill="#fff"/></svg></div><div class="c c2">LD5867</div><div class="c c3">308668208</div><div class="c c4"><span class="bd">Available</span></div><div class="c c5">FTL</div><div class="c c6">$690.16</div><div class="c c7"><a>LD5867</a></div><div class="c c8">None</div><div class="c c9"></div><div class="c c10">No</div></div>
<div class="tr"><div class="c c0"><span class="cb"></span></div><div class="c c1"><svg class="pi" width="16" height="18" viewBox="0 0 16 18"><g fill="#6f7a85"><circle cx="6.800" cy="3.200" r="2.900"/><path d="M5.200 7.100h3.500L6.700 8.900z"/><path d="M2.800 8.100l3 .6-1.800 5.100-2.600 .9L0 12.600z"/><circle cx="11.200" cy="12.900" r="4.500"/></g><rect x="10.400" y="10.100" width="1.600" height="4.700" fill="#fff"/><rect x="10.400" y="15.500" width="1.600" height="1.400" fill="#fff"/></svg></div><div class="c c2">LD5863</div><div class="c c3"></div><div class="c c4"><span class="bd">Available</span></div><div class="c c5">FTL</div><div class="c c6">$950.00</div><div class="c c7"><a>LD5863</a></div><div class="c c8">None</div><div class="c c9"></div><div class="c c10">No</div></div>
<div class="tr"><div class="c c0"><span class="cb"></span></div><div class="c c1"><svg class="pi" width="16" height="18" viewBox="0 0 16 18"><g fill="#6f7a85"><circle cx="6.800" cy="3.200" r="2.900"/><path d="M5.200 7.100h3.500L6.700 8.900z"/><path d="M2.800 8.100l3 .6-1.800 5.100-2.600 .9L0 12.600z"/><circle cx="11.200" cy="12.900" r="4.500"/></g><rect x="10.400" y="10.100" width="1.600" height="4.700" fill="#fff"/><rect x="10.400" y="15.500" width="1.600" height="1.400" fill="#fff"/></svg></div><div class="c c2">LD5862</div><div class="c c3"></div><div class="c c4"><span class="bd">Available</span></div><div class="c c5">FTL</div><div class="c c6">$1,600.00</div><div class="c c7"><a>LD5862</a></div><div class="c c8">None</div><div class="c c9"></div><div class="c c10">No</div></div>
<div class="tr"><div class="c c0"><span class="cb"></span></div><div class="c c1"></div><div class="c c2">LD5854</div><div class="c c3"></div><div class="c c4"><span class="bd">Available</span></div><div class="c c5">FTL</div><div class="c c6">$1,500.00</div><div class="c c7"><a>LD5854</a></div><div class="c c8">None</div><div class="c c9"></div><div class="c c10">No</div></div>
<div class="tr"><div class="c c0"><span class="cb"></span></div><div class="c c1"></div><div class="c c2">LD5850</div><div class="c c3"></div><div class="c c4"><span class="bd">Available</span></div><div class="c c5">FTL</div><div class="c c6">$1,500.00</div><div class="c c7"><a>LD5850</a></div><div class="c c8">None</div><div class="c c9"></div><div class="c c10">No</div></div>
 </div>
 <div id="tot"><div class="c c6" style="top:1px">$123,072.18</div></div>
 <div class="abs" style="left:0;top:1009px;width:1333px;height:1px;background:#e4e4e4"></div>
 <div class="abs" style="left:0;top:1045px;width:1340px;height:7px;background:#fff"></div>
 <div class="abs" style="left:0;top:1045.500px;width:377px;height:6px;background:#e8e8e8;border-radius:0 3px 3px 0"></div>
 <div class="abs" style="left:1333px;top:48px;width:7px;height:1005px;background:#fff"></div>
 <div class="abs" style="left:1333px;top:49px;width:6px;height:590px;background:#ebebeb;border-radius:3px"></div>
</div>
<div id="foot">Total: 150 Rows</div>

<!-- PANEL -->
<div id="pan"><div id="pin">
 <div class="abs" style="left:1486px;top:145px;font-size:17px;line-height:22px;color:#1c1c1c;white-space:nowrap">Load ID: LD5948</div>
 <div class="abs" style="left:1620.500px;top:145.500px"><span class="bd" style="top:0;display:block;width:65px;padding:0;text-align:center">Available</span></div>
 <div class="abs" style="left:1900px;top:146px"><svg width="6" height="20" viewBox="0 0 6 20"><circle cx="3" cy="3" r="1.900" fill="#1d1d1d"/><circle cx="3" cy="10" r="1.900" fill="#1d1d1d"/><circle cx="3" cy="17" r="1.900" fill="#1d1d1d"/></svg></div>
 <div class="abs" style="left:1932px;top:148px"><svg width="16" height="16" viewBox="0 0 16 16" ><path d="M1 5.400V1h4.400M10.600 1H15v4.400M15 10.600V15h-4.400M5.400 15H1v-4.400" fill="none" stroke="#444" stroke-width="1.700"/></svg></div>
 <div class="abs" style="left:1975px;top:148px"><svg width="16" height="16" viewBox="0 0 16 16" ><path d="M1.200 1.200l13.600 13.600M14.800 1.200L1.200 14.800" fill="none" stroke="#333" stroke-width="1.700"/></svg></div>
 <div class="abs" style="left:1469px;top:190px;width:548px;height:1px;background:#e3e3e3"></div>
 <div class="ptab" style="left:1469px;top:192px"><svg class="ti" width="14" height="14" viewBox="0 0 14 14"><circle cx="7" cy="7" r="5.600" fill="none" stroke="currentColor" stroke-width="1.200"/><path d="M7 6.300v3.600M7 4v1.200" stroke="currentColor" stroke-width="1.300"/></svg>Overv…</div>
 <div class="ptab on" style="left:1551.400px;top:192px;padding-left:9px"><svg class="ti" width="14" height="14" viewBox="0 0 14 14"><g fill="none" stroke="currentColor" stroke-width="1.300"><path d="M1.400 3.200l3.600-1.400 4 1.400 3.600-1.400v9.600l-3.600 1.400-4-1.400-3.600 1.400z"/><path d="M5 1.800v9.600M9 3.200v9.600"/></g></svg>Routes</div>
 <div class="ptab" style="left:1633.400px;top:192px;padding-left:9px"><svg class="ti" width="10" height="14" viewBox="0 0 10 14"><text x="5" y="12" font-size="13" font-weight="400" fill="currentColor" text-anchor="middle" font-family="Liberation Sans, sans-serif">$</text></svg><span style="margin-left:3px">Finance</span></div>
 <div class="ptab" style="left:1715.500px;top:192px;padding-left:10px"><svg class="ti" width="14" height="14" viewBox="0 0 14 14"><path d="M1.600 1.400h10.800v11.600H1.600z" fill="currentColor"/><path d="M3.400 4.600h7.200M3.400 7.200h7.200M3.400 9.800h7.200" stroke="#e3eef8" stroke-width="1.100"/></svg>Invoice</div>
 <div class="ptab" style="left:1797.200px;top:192px;padding-left:13px"><svg class="ti" width="14" height="14" viewBox="0 0 14 14"><g fill="none" stroke="currentColor" stroke-width="1.300"><path d="M3.200 3.400a5.400 5.400 0 1 0 3.800-1.600v5.400"/><path d="M4.800 5.200a3 3 0 1 0 2.200-.8"/></g></svg>Alerts</div>
 <div class="ptab" style="left:1879.200px;top:192px;padding-left:13px"><svg class="ti" width="14" height="14" viewBox="0 0 14 14"><g fill="none" stroke="currentColor" stroke-width="1.300"><path d="M1.400 1.800h11.200v8.400H4.200L1.400 12.600z"/><path d="M3.600 4.400h6.800M3.600 6.200h6.800M3.600 8h4.400" stroke-width="1"/></g></svg><span style="margin-left:2px">Notes</span></div>
 <div class="ptab" style="left:1469px;top:229px;line-height:35px"><svg class="ti" width="14" height="14" viewBox="0 0 14 14"><g fill="none" stroke="currentColor" stroke-width="1.300"><path d="M1.400 2.600h4l1.400 1.600h5.800v7.600H1.400z"/><path d="M7.600 6.400h2.800v3.400H7.600z" stroke-width="1.100"/></g></svg>Docu…</div>
 <div class="ptab" style="left:1551.400px;top:229px;padding-left:9px;line-height:35px"><svg class="ti" width="14" height="14" viewBox="0 0 14 14"><g fill="none" stroke="currentColor" stroke-width="1.300"><rect x="1.600" y="1.600" width="10.800" height="10.800" rx="1"/><path d="M3.800 4.600h1.200M6.200 4.600h4M3.800 7h1.200M6.200 7h4M3.800 9.400h1.200M6.200 9.400h4" stroke-width="1.100"/></g></svg>Activity</div>

 <div class="card" style="left:1485px;width:201.500px"><b>497</b><span>Loaded Miles</span></div>
 <div class="card" style="left:1696px;width:200.700px"><b>2</b><span>Number of Stops</span></div>
 <div class="abs" style="left:1916px;top:306px;font-size:15px;line-height:20px;color:#1a73cf;white-space:nowrap">View Map</div>

 <div class="abs" style="left:1485px;top:361px;width:507px;height:35.500px;background:#e3eef8;border-radius:8px"></div>
 <div class="abs" style="left:1495px;top:368px"><svg width="20" height="20" viewBox="0 0 20 20" ><g fill="none" stroke="#555" stroke-width="1.400"><rect x="5" y="1" width="14" height="14" rx="1.600"/><path d="M2.600 4.600H1.800a.8 .8 0 0 0-.8 .8V18.200a.8 .8 0 0 0 .8 .8H15a.8 .8 0 0 0 .8-.8v-.8"/><path d="M3.400 4.400v12.200h12.200" stroke-width="1.200"/></g><text x="12" y="9.800" font-size="4.600" font-weight="700" fill="#555" text-anchor="middle" font-family="Liberation Sans, sans-serif">PDF</text></svg></div>
 <div class="abs" style="left:1524px;top:368px;font-size:15px;line-height:20px;color:#222">Dispatch Sheet</div>
 <div class="abs" style="left:1963px;top:374px"><svg width="14" height="9" viewBox="0 0 14 9" ><path d="M1.200 1.400L7 7.200l5.800-5.800" fill="none" stroke="#555" stroke-width="1.700"/></svg></div>

 <div class="abs" style="left:1469px;top:406px;width:539.500px;height:228.500px;background:#f5f6f8"></div>
 <div class="abs" style="left:1490.500px;top:427px"><svg width="12" height="8" viewBox="0 0 12 8" ><path d="M1 6.800L6 1.800l5 5" fill="none" stroke="#1076cf" stroke-width="1.700"/></svg></div>
 <div class="abs" style="left:1516px;top:423px;font-size:12.700px;font-weight:700;line-height:16px;color:#222;white-space:nowrap">Trip ID: <a style="margin-left:2.300px;color:#1a6fd0">LD5948</a></div>
 <div class="abs" style="left:1616.200px;top:420.300px;width:65.500px;height:21px;border-radius:11px;background:#1076cf;color:#fff;font-size:12px;line-height:22px;-webkit-text-stroke:.25px #fff;text-align:center">Brokered</div>
 <div class="abs" style="left:1895px;top:428px;width:27.500px;height:13.500px;border-radius:7px;background:#1076cf"></div>
 <div class="abs" style="left:1910.500px;top:430px;width:10px;height:10px;border-radius:50%;background:#fff"></div>
 <div class="abs" style="left:1923.500px;top:422px;font-size:17px;line-height:22px;color:#222">Brokered</div>
 <div class="abs" style="left:1485.500px;top:457px;font-size:12.600px;line-height:14px;color:#6d6d6d">Terminal</div>
 <div class="abs" style="left:1485.500px;top:472px;font-size:17px;line-height:22px;color:#1c1c1c;white-space:nowrap">HOLMES EXPRESS INC</div>
 <div class="abs" style="left:1485.500px;top:499px;width:197.500px;height:1px;background:#8a8a8a"></div>
 <div class="abs" style="left:1692px;top:463px;width:38px;height:37px;border:1px solid #a9c8ec;border-radius:5px;background:#f8fafd"></div>
 <div class="abs" style="left:1704px;top:474px"><svg width="14" height="14" viewBox="0 0 14 14" ><path d="M1.500 12.500l.6-3 7.600-7.600 2.400 2.400-7.600 7.600zM8.300 3.300l2.400 2.400" fill="none" stroke="#333" stroke-width="1.300" stroke-linejoin="round"/></svg></div>
 <div class="btn" style="left:1747px;top:460px;width:245px;padding-right:4px"><svg width="20" height="18" viewBox="0 0 20 18" ><g fill="none" stroke="#fff" stroke-width="1.500"><path d="M3.400 9.600V8a6.600 6.600 0 0 1 13.200 0v6.200a2 2 0 0 1-2 2H10.600"/><path d="M1.200 9.200h2.400v4.200H1.200zM16.400 9.200h2.400v4.200h-2.400z" fill="#fff"/><path d="M5.400 8.200c2.200-.2 3.600-1.400 4.200-3 .8 1.600 2.600 2.800 5 2.800"/></g><circle cx="7.800" cy="10.400" r=".9" fill="#fff"/><circle cx="12.200" cy="10.400" r=".9" fill="#fff"/></svg>Assign Dispatcher</div>
 <div class="btn" style="left:1485px;top:518px;width:245px;padding-right:3px"><svg width="21" height="14" viewBox="0 0 21 14" ><g fill="none" stroke="#fff" stroke-width="1.500"><circle cx="6.400" cy="3.800" r="2.600"/><circle cx="14.600" cy="3.800" r="2.600"/><path d="M1 13v-1.200c0-1.800 2.600-2.800 5.400-2.800s5.400 1 5.400 2.800V13zM11.600 13H20v-1.200c0-1.800-2.600-2.800-5.400-2.800-1 0-2 .1-2.800 .4"/></g></svg>Assign Carrier</div>
 <div class="btn" style="left:1747px;top:518px;width:245px;padding-right:3px"><svg width="18" height="20" viewBox="0 0 18 20" ><path d="M6.200 0h5.600v3H16a2 2 0 0 1 2 2v13a2 2 0 0 1-2 2H2a2 2 0 0 1-2-2V5a2 2 0 0 1 2-2h4.200z" fill="#fff"/><rect x="7.600" y="1.400" width="2.800" height="2.600" fill="#1076cf"/><path d="M9 7.400v8M5.400 12l3.600 3.600 3.600-3.600" fill="none" stroke="#1076cf" stroke-width="2.200"/></svg>Post To Loadboard</div>
 <div class="abs" style="left:1485px;top:573px;width:507px;height:44.500px;border:1px solid #1a76d2;border-radius:8px;color:#1a73cf;font-size:14.900px;line-height:43px;text-align:center;padding-right:4px"><span style="position:relative;top:2.500px"><svg width="22" height="16" viewBox="0 0 22 16" ><g fill="none" stroke="#1f5fcc" stroke-width="2"><path d="M2 12.500V1.400h16.600v11.100H8"/><path d="M21.400 12.600h-3.400"/><circle cx="5" cy="13" r="2.200" stroke-width="1.700"/></g></svg></span><span style="margin-left:12px">Search for Trucks</span></div>

 <!-- stop 1 -->
 <div class="abs" style="left:1511px;top:682px;width:2px;height:280px;background:#1076cf"></div>
 <div class="ring" style="left:1501.300px;top:658.900px"></div>
 <div class="abs" style="left:1531px;top:666px;line-height:0"><svg width="12" height="7" viewBox="0 0 12 7" ><path d="M0.400 0.500h11.200L6 6.600z" fill="#1076cf"/></svg></div>
 <div class="stopt" style="left:1549.500px;top:653px;font-size:21.180px">Springfield, OH</div>
 <div class="meta" style="left:1547.400px;top:689px"><b>Pickup :</b>&nbsp; Appt: May 05, 2023, 12:00 EDT &nbsp;-&nbsp; May 05, 2023, 12:00 EDT</div>
 <div class="abs" style="left:1875px;top:680px"><svg width="40" height="30" viewBox="0 0 40 30" ><circle cx="20.400" cy="16.400" r="12.400" fill="#eef2fa"/><g fill="none" stroke="#666" stroke-width="1.300" stroke-linecap="round"><path d="M17.800 17.800C15.500 16 14 14 13.500 11.800C13.100 9.800 14.600 8.900 16 9C17.600 9.100 18.800 10 18.500 11.800C18.300 13 17.400 13.800 17.600 14.800C17.800 15.600 18.200 16 18.700 16.400"/><path d="M18.900 20.500C20.500 22 22.500 23.200 24.600 23.400C26.200 23.500 27.200 22.400 27.200 20.600C27.200 18.600 25.800 17.600 24.400 17.800C23.400 18 22.800 18.800 21.400 18.200"/><path d="M26.500 9.800L13.100 22.950"/></g></svg></div>
 <div class="meta" style="left:1547.400px;top:721px">DOLE: DOLE,600 BENJAMIN DRIVE ,SPRINGFIELD OH 45502, Springfield, OH 45502</div>

 <div class="ico" style="left:1579.300px;top:746.600px"><svg width="21.5" height="15.5" viewBox="0 0 24 18" ><g fill="none" stroke="#5d6b78" stroke-width="2"><path d="M1 17.500L7.200 .5M23 17.500L16.800 .5"/><path d="M12 .5v3.500M12 7v4M12 14v3.500"/></g></svg></div>
 <div class="it" style="top:746px"><b>0mi</b>emptyMile</div>
 <div class="ln" style="top:771px"></div>
 <div class="ico" style="left:1579.300px;top:780.200px"><svg width="21.5" height="21.5" viewBox="0 0 23 23" ><g fill="none" stroke="#5d6b78" stroke-width="2.200"><circle cx="11.500" cy="11.500" r="10.200"/><circle cx="11.500" cy="12" r="2.700"/><path d="M1.600 10.400h7.600M13.800 10.400h7.600M11.500 14.600v7"/></g></svg></div>
 <div class="it" style="top:782.500px">Total Drive Time</div>
 <div class="ln" style="top:808px"></div>
 <div class="ico" style="left:1581.600px;top:817.600px"><svg width="20.8" height="20.8" viewBox="0 0 23 23" ><circle cx="11.500" cy="11.500" r="10.100" fill="none" stroke="#707070" stroke-width="2"/><path d="M11.500 4.800a6.700 6.700 0 1 1-6 9.700l6-3z" fill="#8a8a8a"/></svg></div>
 <div class="it" style="top:820px"><b>2h</b>Handling Time</div>
 <div class="ln" style="top:845.800px"></div>
 <div class="ico" style="left:1582.300px;top:855.300px"><svg width="20" height="25" viewBox="0 0 20 25" ><path d="M1.500 0h17A1.500 1.500 0 0 1 20 1.500V18.500L10 24.600 0 18.500V1.500A1.500 1.500 0 0 1 1.500 0z" fill="#d5d5d5"/><path d="M4.400 10.600l4 4 7.600-7.800" fill="none" stroke="#fff" stroke-width="2.700"/></svg></div>
 <div class="it" style="top:858px;left:1617px">Estimated Arrival Time</div>
 <div class="ln" style="top:885px"></div>
 <div class="ico" style="left:1583.500px;top:891.500px"><svg width="17" height="26" viewBox="0 0 17 26" ><path d="M4.200 0h8.600l.8 5H3.400zM3.400 21h10.200l-.8 5H4.200z" fill="#d0d0d0"/><circle cx="8.500" cy="13" r="6.900" fill="#fff" stroke="#d0d0d0" stroke-width="2.400"/></svg></div>
 <div class="it" style="top:896.500px"><b>0m</b>Time at Location</div>
 <div class="ln" style="top:923px"></div>
 <div class="ico" style="left:1583px;top:935px"><svg width="19" height="16" viewBox="0 0 19 16" ><path d="M0 0h4.600l5 8-5 8H0l5-8zM8.800 0h4.600l5 8-5 8H8.800l5-8z" fill="#777"/></svg></div>
 <div class="it" style="top:935px">Estimated Departure Time</div>

 <!-- stop 2 -->
 <div class="ring" style="left:1500.800px;top:977px"></div>
 <div class="abs" style="left:1531px;top:984px;line-height:0"><svg width="12" height="7" viewBox="0 0 12 7" ><path d="M0.400 0.500h11.200L6 6.600z" fill="#1076cf"/></svg></div>
 <div class="stopt" style="left:1549.500px;top:971px">Center Valley, PA</div>
 <div class="meta" style="left:1547.400px;top:1007px"><b>DropOff :</b>&nbsp; Appt: May 06, 2023, 04:00 EDT &nbsp;-&nbsp; May 06, 2023, 04:00 EDT</div>
 <div class="abs" style="left:1879.900px;top:997.300px"><svg width="40" height="30" viewBox="0 0 40 30" ><circle cx="20.400" cy="16.400" r="12.400" fill="#eef2fa"/><g fill="none" stroke="#666" stroke-width="1.300" stroke-linecap="round"><path d="M17.800 17.800C15.500 16 14 14 13.500 11.800C13.100 9.800 14.600 8.900 16 9C17.600 9.100 18.800 10 18.500 11.800C18.300 13 17.400 13.800 17.600 14.800C17.800 15.600 18.200 16 18.700 16.400"/><path d="M18.900 20.500C20.500 22 22.500 23.200 24.600 23.400C26.200 23.500 27.200 22.400 27.200 20.600C27.200 18.600 25.800 17.600 24.400 17.800C23.400 18 22.800 18.800 21.400 18.200"/><path d="M26.500 9.800L13.100 22.950"/></g></svg></div>
 <div class="meta" style="left:1547.400px;top:1040px;white-space:normal;width:440px">ALDI INC CENTRAL VAL: ALDI INC CENTRAL VAL,2700 SAUCON VALLEY RD ,CENTER VALLEY PA 18034, Center Valley, PA 18034</div>

 <div class="ico" style="left:1579.300px;top:1077px"><svg width="21.5" height="15.5" viewBox="0 0 24 18" ><g fill="none" stroke="#5d6b78" stroke-width="2"><path d="M1 17.500L7.200 .5M23 17.500L16.800 .5"/><path d="M12 .5v3.500M12 7v4M12 14v3.500"/></g></svg></div>
 <div class="it" style="top:1076px"><b>497mi</b>Total Mile</div>
 <div class="ln" style="top:1101px"></div>
 <div class="ico" style="left:1579.300px;top:1111.500px"><svg width="21.5" height="21.5" viewBox="0 0 23 23" ><g fill="none" stroke="#5d6b78" stroke-width="2.200"><circle cx="11.500" cy="11.500" r="10.200"/><circle cx="11.500" cy="12" r="2.700"/><path d="M1.600 10.400h7.600M13.800 10.400h7.600M11.500 14.600v7"/></g></svg></div>
 <div class="it" style="top:1113.500px"><b>8h 17m</b>Total Drive Time</div>
 <div class="ln" style="top:1139.500px"></div>
 <div class="ico" style="left:1581.600px;top:1147.700px"><svg width="20.8" height="20.8" viewBox="0 0 23 23" ><circle cx="11.500" cy="11.500" r="10.100" fill="none" stroke="#707070" stroke-width="2"/><path d="M11.500 4.800a6.700 6.700 0 1 1-6 9.700l6-3z" fill="#8a8a8a"/></svg></div>
 <div class="it" style="top:1150px"><b>2h</b>Handling Time</div>
 <div class="ln" style="top:1177px"></div>
 <div class="ico" style="left:1582.300px;top:1186.500px"><svg width="20" height="25" viewBox="0 0 20 25" ><path d="M1.500 0h17A1.500 1.500 0 0 1 20 1.500V18.500L10 24.600 0 18.500V1.500A1.500 1.500 0 0 1 1.500 0z" fill="#d5d5d5"/><path d="M4.400 10.600l4 4 7.600-7.800" fill="none" stroke="#fff" stroke-width="2.700"/></svg></div>
 <div class="it" style="top:1189px;left:1617px">Estimated Arrival Time</div>
 <div class="ln" style="top:1214.600px"></div>

 <div class="abs" style="left:2008.500px;top:264px;width:7.500px;height:828px;background:#c1c1c1;border-radius:4px"></div>
</div></div>

</div></div>
</body></html>
